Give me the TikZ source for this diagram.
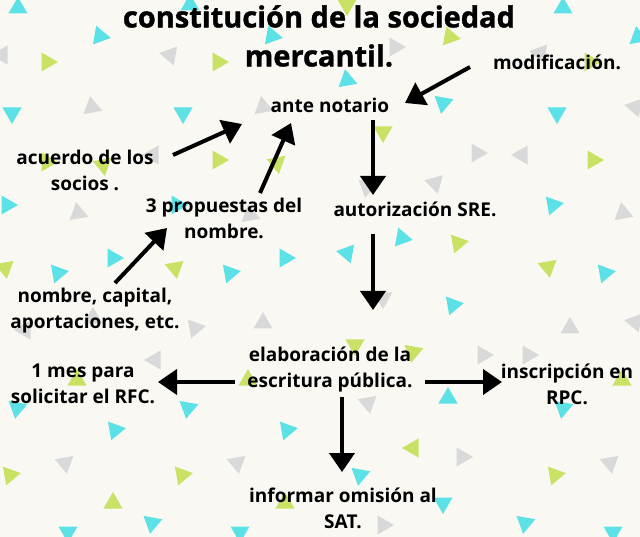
\documentclass[tikz,border=0pt]{standalone}
\usepackage{fontspec}
\setmainfont{Open Sans}
\newfontfamily\ttlfont[BoldFeatures={FakeBold=1.2}]{Open Sans}
\usetikzlibrary{arrows.meta,calc}
\definecolor{bg}{HTML}{F9F8F3}
\definecolor{tc}{HTML}{5CE1E6}
\definecolor{tg}{HTML}{C9E265}
\definecolor{tq}{HTML}{D9D9D9}
\newcommand\tri[4]{\fill[#4,shift={(#1,#2)},rotate=#3] (0:11) -- (120:11) -- (240:11) -- cycle;}
\tikzset{
  lbl/.style={font=\bfseries\fontsize{19}{26}\selectfont, align=center, inner sep=0pt, text=black},
  ttl/.style={font=\ttlfont\bfseries\fontsize{29}{39}\selectfont, align=center, inner sep=0pt, text=black},
  arr/.style={line width=4pt, -{Triangle[length=19pt,width=25pt]}}
}
\begin{document}
\begin{tikzpicture}[x=1pt,y=-1pt]
\useasboundingbox (0,0) rectangle (640,537);
\fill[bg] (0,0) rectangle (640,537);
% background triangles
\tri{18}{8}{90}{tc}
\tri{100}{36}{-10}{tc}
\tri{2}{55}{180}{tq}
\tri{47}{62}{0}{tg}
\tri{170}{55}{170}{tq}
\tri{218}{62}{0}{tg}
\tri{190}{5}{90}{tc}
\tri{272}{36}{-10}{tc}
\tri{12}{113}{-90}{tc}
\tri{92}{107}{100}{tq}
\tri{183}{113}{-90}{tc}
\tri{263}{107}{100}{tq}
\tri{153}{155}{180}{tq}
\tri{218}{160}{0}{tg}
\tri{47}{162}{0}{tg}
\tri{103}{165}{-80}{tg}
\tri{277}{163}{-80}{tg}
\tri{347}{5}{-90}{tg}
\tri{563}{8}{90}{tc}
\tri{450}{37}{110}{tg}
\tri{395}{47}{0}{tq}
\tri{638}{37}{100}{tc}
\tri{347}{80}{100}{tc}
\tri{443}{103}{20}{tc}
\tri{590}{62}{0}{tg}
\tri{540}{53}{170}{tq}
\tri{557}{113}{-90}{tc}
\tri{635}{107}{170}{tq}
\tri{383}{132}{-90}{tg}
\tri{477}{153}{0}{tq}
\tri{522}{155}{180}{tq}
\tri{593}{160}{0}{tg}
\tri{7}{205}{0}{tc}
\tri{78}{213}{100}{tq}
\tri{177}{205}{0}{tc}
\tri{250}{215}{100}{tq}
\tri{5}{268}{-80}{tg}
\tri{58}{273}{10}{tc}
\tri{113}{258}{0}{tc}
\tri{175}{268}{-80}{tg}
\tri{230}{273}{10}{tc}
\tri{285}{258}{0}{tc}
\tri{25}{330}{180}{tq}
\tri{93}{318}{90}{tq}
\tri{195}{328}{10}{tq}
\tri{263}{323}{90}{tq}
\tri{367}{187}{-100}{tq}
\tri{435}{183}{-75}{tq}
\tri{553}{205}{10}{tc}
\tri{623}{213}{100}{tq}
\tri{347}{253}{170}{tc}
\tri{402}{238}{110}{tc}
\tri{458}{243}{10}{tg}
\tri{548}{267}{-80}{tg}
\tri{605}{273}{10}{tc}
\tri{383}{298}{30}{tq}
\tri{453}{305}{-110}{tc}
\tri{570}{328}{90}{tq}
\tri{635}{322}{170}{tq}
\tri{355}{345}{30}{tg}
\tri{413}{352}{-100}{tg}
\tri{483}{355}{0}{tq}
\tri{528}{355}{120}{tq}
\tri{155}{360}{180}{tq}
\tri{77}{380}{90}{tg}
\tri{248}{380}{90}{tg}
\tri{17}{408}{-100}{tc}
\tri{188}{408}{-100}{tc}
\tri{115}{430}{10}{tc}
\tri{287}{430}{10}{tc}
\tri{65}{463}{-80}{tq}
\tri{237}{463}{-80}{tq}
\tri{10}{475}{10}{tg}
\tri{182}{475}{10}{tg}
\tri{113}{503}{90}{tg}
\tri{285}{503}{90}{tg}
\tri{152}{523}{20}{tc}
\tri{68}{532}{-90}{tc}
\tri{240}{532}{-90}{tc}
\tri{622}{380}{90}{tg}
\tri{448}{398}{90}{tc}
\tri{368}{403}{-80}{tq}
\tri{563}{408}{-100}{tc}
\tri{413}{448}{-60}{tg}
\tri{462}{457}{0}{tq}
\tri{610}{463}{-80}{tq}
\tri{555}{475}{10}{tg}
\tri{360}{475}{-100}{tc}
\tri{443}{503}{-90}{tc}
\tri{383}{525}{0}{tq}
\tri{525}{523}{20}{tc}
\tri{613}{532}{-90}{tc}
% texts
\node[ttl] (title) at (319,36) {constitución de la sociedad\\mercantil.};
\node[lbl] (mod) at (557,62) {modificación.};
\node[lbl] (ante) at (330,105) {ante notario};
\node[lbl] (acu) at (85,170) {acuerdo de los\\socios .};
\node[lbl] (prop) at (224,218) {3 propuestas del\\nombre.};
\node[lbl] (aut) at (415,209) {autorización SRE.};
\node[lbl] (nom) at (95,311) {nombre, capital,\\aportaciones, etc.};
\node[lbl] (ela) at (330,370) {elaboración de la\\escritura pública.};
\node[lbl] (mes) at (83,384) {1 mes para\\solicitar el RFC.};
\node[lbl] (ins) at (567,384) {inscripción en\\RPC.};
\node[lbl] (inf) at (343,508) {informar omisión al\\SAT.};
% arrows
\draw[arr] ($(mod)+(-87,5)$) -- ($(ante)+(75,-2)$);
\draw[arr] ($(acu)+(88,-15)$) -- ($(ante)+(-88,19)$);
\draw[arr] ($(prop)+(36,-25)$) -- ($(ante)+(-39,18)$);
\draw[arr] ($(nom)+(20,-28)$) -- ($(prop)+(-57,10)$);
\draw[arr] ($(ante)+(43,15)$) -- ($(aut)+(-42,-14)$);
\draw[arr] ($(aut)+(-42,25)$) -- ($(ela)+(43,-60)$);
\draw[arr] ($(ela)+(-95,12)$) -- ($(mes)+(75,-2)$);
\draw[arr] ($(ela)+(95,12)$) -- ($(ins)+(-65,-2)$);
\draw[arr] ($(ela)+(12,27)$) -- ($(inf)+(-1,-36)$);
\end{tikzpicture}
\end{document}
